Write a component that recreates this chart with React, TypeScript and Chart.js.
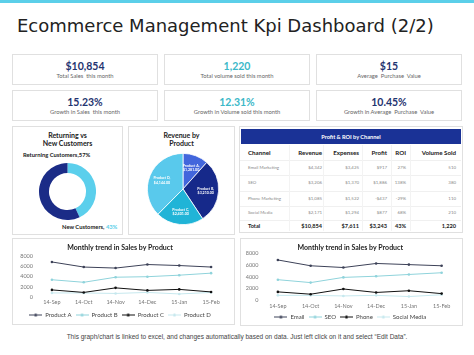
import React, { useEffect, useRef } from "react";
import { Chart, registerables } from "chart.js";
Chart.register(...registerables);
Chart.defaults.font.family = "Lato";

const TITLE = "Ecommerce Management Kpi Dashboard (2/2)";
const kpiValues = ["$10,854", "1,220", "$15", "15.23%", "12.31%", "10.45%"];
const kpiLabels = [
  "Total Sales  this month",
  "Total volume sold this month",
  "Average  Purchase  Value",
  "Growth in Sales  this month",
  "Growth in Volume sold this month",
  "Growth in Average  Purchase  Value",
];
const kpiColors = ["#1f3470", "#3bb8c8", "#1f3470", "#1f3470", "#3bb8c8", "#1f3470"];

const custLabels = ["New Customers", "Returning Customers"];
const custValues = [43, 57];

const prodLabels = ["Product A", "Product B", "Product C", "Product D"];
const prodRevenue = [1281, 3210, 2401, 4144];

const tableCols = ["Channel", "Revenue", "Expenses", "Profit", "ROI", "Volume Sold"];
const channels = ["Email Marketing", "SEO", "Phone Marketing", "Social Media"];
const revenueCol = ["$4,342", "$3,206", "$1,085", "$2,171"];
const expensesCol = ["$3,425", "$1,370", "$1,522", "$1,294"];
const profitCol = ["$917", "$1,886", "-$437", "$877"];
const roiCol = ["27%", "138%", "-29%", "68%"];
const volumeCol = ["510", "380", "110", "210"];
const totalRow = ["Total", "$10,854", "$7,611", "$3,243", "43%", "1,220"];

const months = ["14-Sep", "14-Oct", "14-Nov", "14-Dec", "15-Jan", "15-Feb"];
const yTicks = [0, 2000, 4000, 6000, 8000];
const productA = [6900, 5900, 5700, 6400, 6200, 5900];
const productB = [3400, 2900, 3900, 4000, 4300, 4700];
const productC = [1400, 900, 1800, 1300, 1500, 1000];
const productD = [800, 800, 700, 900, 600, 900];
const chanNames = ["Email", "SEO", "Phone", "Social Media"];
const email = [6900, 5900, 5600, 6300, 6100, 5900];
const seo = [3500, 3000, 3900, 4100, 4400, 4700];
const phone = [1400, 1000, 1900, 1300, 1600, 1100];
const social = [800, 800, 700, 800, 600, 900];

const lineColors = ["#3d4258", "#8fd3db", "#111111", "#c6e8ee"];
const FOOTER =
  'This graph/chart is linked to excel, and changes automatically based on data. Just left click on it and select \u201cEdit Data\u201d.';

function legendIcon(color: string) {
  const c = document.createElement("canvas");
  c.width = 13;
  c.height = 5;
  const g = c.getContext("2d")!;
  g.strokeStyle = color;
  g.lineWidth = 1;
  g.beginPath();
  g.moveTo(0, 2.5);
  g.lineTo(13, 2.5);
  g.stroke();
  g.fillStyle = color;
  g.beginPath();
  g.arc(6.5, 2.5, 1.5, 0, Math.PI * 2);
  g.fill();
  return c;
}

function ChartCanvas({ config, style }: { config: () => any; style: React.CSSProperties }) {
  const ref = useRef<HTMLCanvasElement>(null);
  useEffect(() => {
    const ch = new Chart(ref.current!, config());
    return () => ch.destroy();
  }, []);
  return (
    <canvas
      ref={ref}
      width={style.width as number}
      height={style.height as number}
      style={{ position: "absolute", ...style }}
    />
  );
}

function lineConfig(
  names: string[],
  series: number[][],
  yWidth: number,
  padRight: number,
  titleTop: number,
  titleBottom: number,
  xHeight: number,
  xPad: number
) {
  return () => ({
    type: "line",
    data: {
      labels: months,
      datasets: series.map((d, i) => ({
        label: names[i],
        data: d,
        borderColor: lineColors[i],
        backgroundColor: lineColors[i],
        borderWidth: 1,
        pointRadius: 1.3,
        pointBorderWidth: 0,
        tension: 0,
      })),
    },
    options: {
      responsive: false,
      animation: false,
      layout: { padding: { left: 0, right: padRight, top: 0, bottom: 0 } },
      plugins: {
        tooltip: { enabled: false },
        title: {
          display: true,
          text: "Monthly trend in Sales by Product",
          color: "#222",
          font: { size: 7, weight: "bold" },
          padding: { top: titleTop, bottom: titleBottom },
        },
        legend: {
          position: "bottom",
          labels: {
            usePointStyle: true,
            pointStyleWidth: 13,
            boxHeight: 5,
            padding: 4,
            color: "#444",
            font: { size: 6 },
            generateLabels: (chart: any) =>
              chart.data.datasets.map((ds: any, i: number) => ({
                text: ds.label,
                pointStyle: legendIcon(lineColors[i]),
                fillStyle: lineColors[i],
                strokeStyle: lineColors[i],
                lineWidth: 0,
                hidden: false,
                datasetIndex: i,
                fontColor: "#444",
              })),
          },
        },
      },
      scales: {
        x: {
          offset: true,
          afterFit: (s: any) => {
            s.height = xHeight;
          },
          grid: { display: false, drawTicks: false },
          border: { display: false },
          ticks: { color: "#777", font: { size: 5.5 }, padding: xPad, maxRotation: 0 },
        },
        y: {
          min: yTicks[0],
          max: yTicks[yTicks.length - 1],
          afterFit: (s: any) => {
            s.width = yWidth;
          },
          afterBuildTicks: (s: any) => {
            s.ticks = yTicks.map((v) => ({ value: v }));
          },
          grid: { display: false, drawTicks: false },
          border: { display: false },
          ticks: {
            color: "#777",
            font: { size: 5.5 },
            padding: 3,
            callback: (v: any) => String(v),
          },
        },
      },
    },
  });
}

const pieLabelPlugin = {
  id: "pieLabels",
  afterDatasetsDraw(chart: any) {
    const ctx = chart.ctx;
    const meta = chart.getDatasetMeta(0);
    meta.data.forEach((arc: any, i: number) => {
      const p = arc.getProps(["x", "y", "startAngle", "endAngle", "outerRadius"], true);
      const mid = (p.startAngle + p.endAngle) / 2;
      const r = p.outerRadius * 0.64;
      const px = p.x + Math.cos(mid) * r;
      const py = p.y + Math.sin(mid) * r;
      ctx.save();
      ctx.fillStyle = "#ffffff";
      ctx.font = "bold 3.6px Lato";
      ctx.textAlign = "center";
      ctx.textBaseline = "middle";
      ctx.fillText(prodLabels[i] + ",", px, py - 2.2);
      ctx.fillText("$" + prodRevenue[i].toLocaleString("en-US") + ".00", px, py + 2.2);
      ctx.restore();
    });
  },
};

const panel: React.CSSProperties = {
  position: "absolute",
  border: "1px solid #e0e0e0",
  boxSizing: "border-box",
  background: "#fff",
};

export default function App() {
  useEffect(() => {
    document.body.style.margin = "0";
  }, []);
  const kpiBoxes = kpiValues.map((v, i) => {
    const col = i % 3;
    const row = Math.floor(i / 3);
    const left = [12, 164, 316][col];
    const top = [54, 90][row];
    return (
      <div key={i} style={{ ...panel, left, top, width: 146, height: 31 }}>
        <div
          style={{
            position: "absolute",
            left: 0,
            right: 0,
            top: 4,
            textAlign: "center",
            fontWeight: 700,
            fontSize: 10.5,
            color: kpiColors[i],
            lineHeight: "14px",
          }}
        >
          {v}
        </div>
        <div
          style={{
            position: "absolute",
            left: 0,
            right: 0,
            top: 17,
            textAlign: "center",
            fontSize: 5.8,
            color: "#666",
            lineHeight: "8px",
            whiteSpace: "pre",
          }}
        >
          {kpiLabels[i]}
        </div>
      </div>
    );
  });

  const colRight = [289, 322, 359, 387, 406, 456];
  const rowTops = [145, 160, 175, 191, 206, 220];
  const rowHeights = [15, 15, 16, 15, 14, 11];
  const bodyRows = channels.map((c, i) => [c, revenueCol[i], expensesCol[i], profitCol[i], roiCol[i], volumeCol[i]]);
  const allRows = [tableCols, ...bodyRows, totalRow];
  const cells: any[] = [];
  allRows.forEach((row, ri) => {
    const bold = ri === 0 || ri === allRows.length - 1;
    row.forEach((txt, ci) => {
      const style: React.CSSProperties = {
        position: "absolute",
        top: rowTops[ri],
        height: rowHeights[ri],
        lineHeight: rowHeights[ri] + "px",
        fontSize: bold ? (ri === 0 ? 6.2 : 5.6) : 4.4,
        fontWeight: bold ? 700 : 400,
        color: bold ? "#222" : "#888",
        whiteSpace: "nowrap",
      };
      if (ci === 0) {
        style.left = 248;
      } else {
        style.left = colRight[ci] - 60;
        style.width = 60;
        style.textAlign = "right";
      }
      cells.push(
        <div key={ri + "-" + ci} style={style}>
          {txt}
        </div>
      );
    });
  });
  const hLines = [160, 175, 191, 206, 220].map((y) => (
    <div key={"h" + y} style={{ position: "absolute", left: 240, width: 221, top: y, height: 1, background: "#f0f0f0" }} />
  ));
  const vLines = [289, 323, 362, 391, 410].map((x) => (
    <div key={"v" + x} style={{ position: "absolute", left: x, top: 145, width: 1, height: 86, background: "#f3f3f3" }} />
  ));

  return (
    <div
      style={{
        position: "fixed",
        left: 0,
        top: 0,
        width: 474,
        height: 355,
        background: "#fff",
        fontFamily: "Lato, sans-serif",
        overflow: "hidden",
      }}
    >
      <div style={{ position: "absolute", left: 0, top: 0, width: 474, height: 3, background: "#5bcfe9" }} />
      <div
        style={{
          position: "absolute",
          left: 17,
          top: 14,
          fontFamily: "'DejaVu Sans', sans-serif",
          fontSize: 18,
          lineHeight: "24px",
          color: "#222",
          whiteSpace: "nowrap",
        }}
      >
        {TITLE}
      </div>
      {kpiBoxes}

      {/* Customers donut panel */}
      <div style={{ ...panel, left: 12, top: 126, width: 111, height: 109 }} />
      <div
        style={{
          position: "absolute",
          left: 12,
          width: 111,
          top: 131,
          textAlign: "center",
          fontWeight: 700,
          fontSize: 7,
          lineHeight: "8px",
          color: "#222",
        }}
      >
        Returning vs
        <br />
        New Customers
      </div>
      <div style={{ position: "absolute", left: 23, top: 151, fontSize: 5.8, fontWeight: 700, color: "#222", whiteSpace: "nowrap" }}>
        {custLabels[1]},{custValues[1]}%
      </div>
      <div style={{ position: "absolute", left: 62, top: 223, fontSize: 5.8, fontWeight: 700, color: "#222", whiteSpace: "nowrap" }}>
        {custLabels[0]}, <span style={{ color: "#5bcfe9" }}>{custValues[0]}%</span>
      </div>
      <ChartCanvas
        style={{ left: 39, top: 163, width: 57, height: 57 }}
        config={() => ({
          type: "doughnut",
          data: {
            labels: custLabels,
            datasets: [{ data: custValues, backgroundColor: ["#5bcfec", "#1b2c87"], borderWidth: 0 }],
          },
          options: {
            responsive: false,
            animation: false,
            cutout: "65%",
            plugins: { legend: { display: false }, tooltip: { enabled: false } },
          },
        })}
      />

      {/* Revenue pie panel */}
      <div style={{ ...panel, left: 128, top: 126, width: 107, height: 109 }} />
      <div
        style={{
          position: "absolute",
          left: 128,
          width: 107,
          top: 131,
          textAlign: "center",
          fontWeight: 700,
          fontSize: 7,
          lineHeight: "8px",
          color: "#222",
        }}
      >
        Revenue by
        <br />
        Product
      </div>
      <ChartCanvas
        style={{ left: 147, top: 153, width: 72, height: 72 }}
        config={() => ({
          type: "pie",
          data: {
            labels: prodLabels,
            datasets: [
              {
                data: prodRevenue,
                backgroundColor: ["#4266dc", "#16298a", "#20b4d7", "#59c9ec"],
                borderColor: "#ffffff",
                borderWidth: 0.8,
              },
            ],
          },
          options: {
            responsive: false,
            animation: false,
            plugins: { legend: { display: false }, tooltip: { enabled: false } },
          },
          plugins: [pieLabelPlugin],
        })}
      />

      {/* Table panel */}
      <div style={{ ...panel, left: 239, top: 126, width: 224, height: 107 }} />
      <div
        style={{
          position: "absolute",
          left: 241,
          top: 129,
          width: 220,
          height: 15,
          background: "#1a3296",
          color: "#fff",
          fontWeight: 700,
          fontSize: 5.6,
          lineHeight: "15px",
          textAlign: "center",
        }}
      >
        Profit &amp; ROI by Channel
      </div>
      {hLines}
      {vLines}
      {cells}

      {/* Line charts */}
      <div style={{ ...panel, left: 12, top: 238, width: 223, height: 87 }} />
      <div style={{ ...panel, left: 240, top: 238, width: 223, height: 88 }} />
      <ChartCanvas
        style={{ left: 13, top: 239, width: 221, height: 89 }}
        config={lineConfig(prodLabels, [productA, productB, productC, productD], 23, 7, 5, 4, 11, 2)}
      />
      <ChartCanvas
        style={{ left: 241, top: 239, width: 221, height: 91 }}
        config={lineConfig(chanNames, [email, seo, phone, social], 20.5, 2.5, 5, 1.2, 10, 3)}
      />

      <div
        style={{
          position: "absolute",
          left: 0,
          width: 474,
          top: 333,
          textAlign: "center",
          fontFamily: "'Liberation Sans', Arial, sans-serif",
          fontSize: 6.5,
          color: "#444",
          whiteSpace: "nowrap",
        }}
      >
        {FOOTER}
      </div>
    </div>
  );
}
